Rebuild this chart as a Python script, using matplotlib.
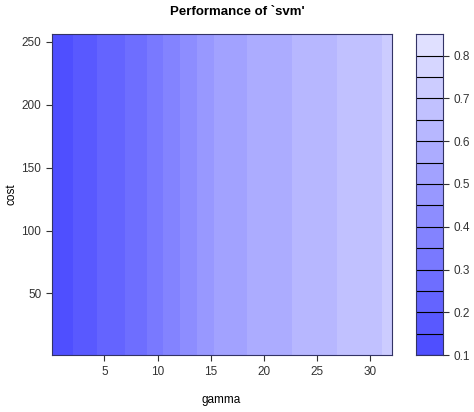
import numpy as np
import matplotlib
matplotlib.use("Agg")
import matplotlib.pyplot as plt
from matplotlib.colors import ListedColormap, BoundaryNorm

plt.rcParams["font.family"] = ["Liberation Sans", "DejaVu Sans"]
FS = 8.5

# tuning grid (error depends on gamma only)
gamma = [0.03125, 0.0625, 0.125, 0.25, 0.5, 1, 2, 4, 8, 16, 32]
cost = [1, 2, 4, 8, 16, 32, 64, 128, 256]
error = [0.11, 0.112, 0.115, 0.12, 0.125, 0.13, 0.15, 0.195, 0.27, 0.522, 0.71]

levels = np.round(np.arange(0.10, 0.851, 0.05), 2)
n = len(levels) - 1
shade = np.linspace(0.31, 0.88, n)
cmap = ListedColormap([(s, s, 1.0) for s in shade])
norm = BoundaryNorm(levels, n)

G, C = np.meshgrid(gamma, cost)
Z = np.tile(error, (len(cost), 1))

fig = plt.figure(figsize=(4.74, 4.12), dpi=100)
ax = fig.add_axes([0.109, 0.138, 0.717, 0.779])
ax.contourf(G, C, Z, levels=levels, cmap=cmap, norm=norm)
ax.set_xlim(min(gamma), max(gamma))
ax.set_ylim(min(cost), max(cost))
ax.set_xticks([5, 10, 15, 20, 25, 30])
ax.set_yticks([50, 100, 150, 200, 250])
ax.tick_params(labelsize=FS, colors="#333333", length=4)
for sp in ax.spines.values():
    sp.set_color("#333366")
ax.set_xlabel("gamma", fontsize=FS, labelpad=12)
ax.set_ylabel("cost", fontsize=FS, labelpad=3)

cax = fig.add_axes([0.878, 0.138, 0.057, 0.779])
for i in range(n):
    cax.fill_between([0, 1], levels[i], levels[i + 1], color=cmap(i), lw=0)
    cax.axhline(levels[i], color="black", lw=0.8)
cax.set_xlim(0, 1)
cax.set_ylim(levels[0], levels[-1])
cax.set_xticks([])
cax.yaxis.tick_right()
cax.set_yticks(np.round(np.arange(0.1, 0.81, 0.1), 1))
cax.tick_params(labelsize=FS, colors="#333333", length=4)
for sp in cax.spines.values():
    sp.set_color("#333366")

fig.suptitle("Performance of `svm'", fontsize=9.5, fontweight="bold", y=0.985)
fig.savefig("out.png", dpi=100)
